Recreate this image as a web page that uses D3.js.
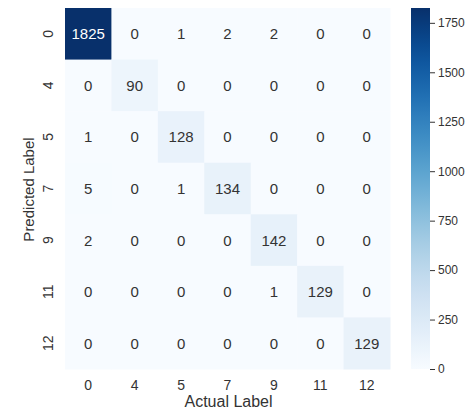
<!DOCTYPE html>
<html><head><meta charset="utf-8">
<script src="https://cdn.jsdelivr.net/npm/d3@7"></script>
<style>body{margin:0;background:#fff}text{font-family:"Liberation Sans",Arial,sans-serif}</style>
</head><body><svg id="c" width="474" height="415"></svg>
<script>
const labels = ["0","4","5","7","9","11","12"];
const matrix = [
  [1825,0,1,2,2,0,0],
  [0,90,0,0,0,0,0],
  [1,0,128,0,0,0,0],
  [5,0,1,134,0,0,0],
  [2,0,0,0,142,0,0],
  [0,0,0,0,1,129,0],
  [0,0,0,0,0,0,129]
];
const cbTicks = [0,250,500,750,1000,1250,1500,1750];

(function(){
const svg = d3.select("#c");
const gL = 65, gR = 390, gT = 8, gB = 369;
const x = d3.scaleBand().domain(labels).range([gL, gR]);
const y = d3.scaleBand().domain(labels).range([gT, gB]);
const vmax = d3.max(matrix.flat());
const color = d3.scaleSequential(d3.interpolateBlues).domain([0, vmax]);
const txt = "#333";
const ff = "Liberation Sans, Arial, sans-serif";

const cells = [];
matrix.forEach((row, i) => row.forEach((v, j) => cells.push({r: labels[i], c: labels[j], v})));

svg.append("g").selectAll("rect").data(cells).join("rect")
  .attr("x", d => x(d.c)).attr("y", d => y(d.r))
  .attr("width", x.bandwidth() + 0.5).attr("height", y.bandwidth() + 0.5)
  .attr("fill", d => color(d.v));

function lum(c) {
  const rgb = d3.rgb(c);
  const f = u => { u /= 255; return u <= 0.03928 ? u / 12.92 : Math.pow((u + 0.055) / 1.055, 2.4); };
  return 0.2126 * f(rgb.r) + 0.7152 * f(rgb.g) + 0.0722 * f(rgb.b);
}

svg.append("g").selectAll("text").data(cells).join("text")
  .attr("x", d => x(d.c) + x.bandwidth() / 2).attr("y", d => y(d.r) + y.bandwidth() / 2)
  .attr("text-anchor", "middle").attr("dominant-baseline", "central")
  .attr("font-size", 15)
  .attr("fill", d => lum(color(d.v)) < 0.408 ? "#fff" : txt)
  .text(d => d.v);

const xa = svg.append("g").attr("transform", `translate(0,${gB})`)
  .call(d3.axisBottom(x).tickSize(0).tickPadding(0));
xa.select(".domain").remove();
xa.selectAll("text").attr("font-size", 14).attr("fill", txt).style("font-family", ff)
  .attr("dy", null).attr("y", 16).attr("dominant-baseline", "central");

const ya = svg.append("g").attr("transform", `translate(${gL},0)`)
  .call(d3.axisLeft(y).tickSize(0).tickPadding(0));
ya.select(".domain").remove();
ya.selectAll("text").attr("font-size", 14).attr("fill", txt).style("font-family", ff)
  .attr("text-anchor", "middle").attr("dy", null).attr("x", null)
  .attr("transform", "translate(-17,0) rotate(-90)").attr("dominant-baseline", "central");

svg.append("text").attr("x", (gL + gR) / 2 + 1).attr("y", 401)
  .attr("text-anchor", "middle").attr("dominant-baseline", "central")
  .attr("font-size", 16).attr("fill", txt).text("Actual Label");
svg.append("text").attr("transform", `translate(28,${(gT + gB) / 2 + 1}) rotate(-90)`)
  .attr("text-anchor", "middle").attr("dominant-baseline", "central")
  .attr("font-size", 15).attr("fill", txt).text("Predicted Label");

const cbx = 411, cbw = 19;
const cy = d3.scaleLinear().domain([0, vmax]).range([gB, gT]);
const defs = svg.append("defs");
const grad = defs.append("linearGradient").attr("id", "g").attr("x1", 0).attr("y1", 1).attr("x2", 0).attr("y2", 0);
d3.range(0, 1.0001, 0.05).forEach(t => grad.append("stop").attr("offset", t).attr("stop-color", d3.interpolateBlues(t)));
svg.append("rect").attr("x", cbx).attr("y", gT).attr("width", cbw).attr("height", gB - gT).attr("fill", "url(#g)");
const ca = svg.append("g").attr("transform", `translate(${cbx + cbw},0)`)
  .call(d3.axisRight(cy).tickValues(cbTicks).tickFormat(d3.format("d")).tickSize(5).tickPadding(3));
ca.select(".domain").remove();
ca.selectAll("line").attr("stroke", txt);
ca.selectAll("text").attr("font-size", 12).attr("fill", txt).style("font-family", ff);
})();
</script></body></html>
